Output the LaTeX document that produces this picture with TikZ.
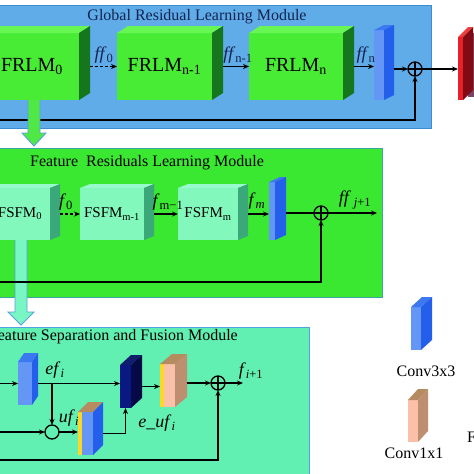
\documentclass[tikz,border=0pt]{standalone}
\usepackage{fontspec}
\setmainfont{Liberation Serif}
\usetikzlibrary{calc,arrows.meta}
\definecolor{gblue}{RGB}{95,172,232}
\definecolor{gblueedge}{RGB}{60,140,210}
\definecolor{bgreen}{RGB}{58,232,50}
\definecolor{bgreenedge}{RGB}{60,165,160}
\definecolor{mint}{RGB}{98,240,178}
\definecolor{mintedge}{RGB}{80,165,225}
\definecolor{cubeg}{RGB}{72,236,52}
\definecolor{cubegtop}{RGB}{104,246,84}
\definecolor{cubegside}{RGB}{22,118,30}
\definecolor{cubem}{RGB}{130,248,188}
\definecolor{cubemtop}{RGB}{150,250,205}
\definecolor{cubemside}{RGB}{58,168,120}
\definecolor{convf}{RGB}{100,150,245}
\definecolor{convs}{RGB}{35,95,235}
\definecolor{convt}{RGB}{60,120,240}
\definecolor{navyf}{RGB}{10,25,130}
\definecolor{navys}{RGB}{5,10,70}
\definecolor{navyt}{RGB}{15,30,110}
\definecolor{peachf}{RGB}{250,192,168}
\definecolor{peachs}{RGB}{190,142,112}
\definecolor{peacht}{RGB}{180,140,95}
\definecolor{yel}{RGB}{250,215,40}
\definecolor{redf}{RGB}{232,32,42}
\definecolor{redt}{RGB}{240,60,60}
\definecolor{reds}{RGB}{130,10,20}
\definecolor{purp}{RGB}{120,70,100}
\definecolor{titlenavy}{RGB}{20,35,80}
\definecolor{hgreen}{RGB}{80,232,70}
\definecolor{hmint}{RGB}{120,246,196}
\definecolor{hedge}{RGB}{90,160,220}
\newcommand{\mycube}[5]{%
  \fill[#4] (#1.north west) -- ++(#2,#3) -- ($(#1.north east)+(#2,#3)$) -- (#1.north east) -- cycle;
  \fill[#5] (#1.north east) -- ++(#2,#3) -- ($(#1.south east)+(#2,#3)$) -- (#1.south east) -- cycle;}
\tikzset{
  face/.style={inner sep=0pt, outer sep=0pt, draw=none},
  container/.style={inner sep=0pt, outer sep=0pt, line width=1pt},
  title/.style={inner sep=0pt, font=\fontsize{16}{18}\selectfont},
  legtxt/.style={inner sep=0pt, font=\fontsize{16}{18}\selectfont},
  lbl/.style={inner sep=0pt, font=\fontsize{18}{20}\selectfont},
  bigtxt/.style={font=\fontsize{20}{22}\selectfont},
  midtxt/.style={font=\fontsize{15}{17}\selectfont},
  oplus/.style={circle, draw, line width=1.3pt, minimum size=14pt, inner sep=0pt, outer sep=0pt,
    path picture={\draw[line width=1.2pt] (path picture bounding box.north) -- (path picture bounding box.south)
      (path picture bounding box.west) -- (path picture bounding box.east);}},
  ocirc/.style={circle, draw, line width=1.3pt, minimum size=14pt, inner sep=0pt, outer sep=0pt},
  conn/.style={line width=1.5pt, -{Stealth[length=6pt,width=5pt]}},
  plain/.style={line width=1.5pt},
  hollow/.style={line width=0.9pt, draw=hedge}
}
\begin{document}
\begin{tikzpicture}[x=1pt,y=-1pt]
\useasboundingbox (0,0) rectangle (474,474);
\clip (0,0) rectangle (474,474);
\fill[white] (0,0) rectangle (474,474);

% containers
\node[container, fill=gblue, draw=gblueedge, minimum width=436pt, minimum height=123pt] (G) at (213,66.5) {};
\node[container, fill=bgreen, draw=bgreenedge, minimum width=387pt, minimum height=149pt] (FB) at (188.5,222.5) {};
\node[container, fill=mint, draw=mintedge, minimum width=314pt, minimum height=153pt] (SB) at (152,403.5) {};

\node[title, text=titlenavy] (Gt) at (197,17) {Global Residual Learning Module};
\node[title] (Ft) at (147,163) {Feature\ \ Residuals Learning Module};
\node[title, anchor=east] (St) at (238,337) {Feature Separation and Fusion Module};

% ---------- global module
\node[face, fill=cubeg, bigtxt, minimum width=94pt, minimum height=67pt] (F0) at (32,66.5) {\raisebox{-4pt}{FRLM\textsubscript{0}}};
\mycube{F0}{11}{-7}{cubegtop}{cubegside}
\node[face, fill=cubeg, bigtxt, minimum width=95pt, minimum height=67pt] (F1) at (164.5,66.5) {\raisebox{-4pt}{FRLM\textsubscript{n-1}}};
\mycube{F1}{11}{-7}{cubegtop}{cubegside}
\node[face, fill=cubeg, bigtxt, minimum width=94pt, minimum height=67pt] (F2) at (296,66.5) {\raisebox{-4pt}{FRLM\textsubscript{n}}};
\mycube{F2}{11}{-7}{cubegtop}{cubegside}
\node[face, fill=convf, minimum width=10pt, minimum height=70pt] (S1) at (379,65) {};
\mycube{S1}{10}{-5}{convt}{convs}
\coordinate (S1r) at ([xshift=10pt]S1.east);
\node[oplus] (P1) at (415,69) {};
\fill[purp] (468,33) rectangle (474,97);
\node[face, fill=redf, minimum width=5pt, minimum height=63pt] (R) at (460.5,68.5) {};
\mycube{R}{10}{-10}{redt}{reds}

\draw[conn, dash pattern=on 3pt off 2pt] ([xshift=11pt]F0.east) -- (F1.west);
\draw[conn] ([xshift=11pt]F1.east) -- (F2.west);
\draw[conn] ([xshift=11pt]F2.east) -- (F2.east -| S1.west);
\draw[conn] (S1r |- P1) -- (P1.west);
\draw[conn] (P1.east) -- (P1 -| R.west);
\coordinate (gin) at (-5,120);
\draw[conn] (gin) -| (P1.south);
\node[lbl, text=titlenavy] (l0) at (104,55) {\textit{ff}\textsubscript{0}};
\node[lbl, text=titlenavy] (l1) at (238,55) {\textit{ff}\textsubscript{n-1}};
\node[lbl, text=titlenavy] (l2) at (366,55) {\textit{ff}\textsubscript{n}};

% hollow arrow 1
\draw[hollow, fill=hgreen] (28,100) -- (28,133) -- (22,133) -- (34,146) -- (46,133) -- (40,133) -- (40,100);

% ---------- feature residuals module
\node[face, fill=cubem, midtxt, minimum width=60pt, minimum height=52pt] (M0) at (20,214) {\raisebox{-3pt}{FSFM\textsubscript{0}}};
\mycube{M0}{10}{-4}{cubemtop}{cubemside}
\node[face, fill=cubem, midtxt, minimum width=64pt, minimum height=52pt] (M1) at (112,214) {\raisebox{-3pt}{FSFM\textsubscript{m-1}}};
\mycube{M1}{10}{-4}{cubemtop}{cubemside}
\node[face, fill=cubem, midtxt, minimum width=60pt, minimum height=52pt] (M2) at (208,214) {\raisebox{-3pt}{FSFM\textsubscript{m}}};
\mycube{M2}{10}{-4}{cubemtop}{cubemside}
\node[face, fill=convf, minimum width=6pt, minimum height=58pt] (S2) at (272,211) {};
\mycube{S2}{11}{-5}{convt}{convs}
\coordinate (S2r) at ([xshift=11pt]S2.east);
\node[oplus] (P2) at (321,213) {};
\coordinate (fout) at (377,213);

\draw[conn, dash pattern=on 3pt off 2pt] ([xshift=10pt]M0.east) -- (M1.west);
\draw[conn] ([xshift=10pt]M1.east) -- (M2.west);
\draw[conn] ([xshift=10pt]M2.east) -- (M2.east -| S2.west);
\draw[plain] (S2r |- P2) -- (P2.west);
\draw[conn] (P2.east) -- (fout);
\node[lbl] (m0) at (66,202) {\textit{f}\textsubscript{0}};
\node[lbl] (m1) at (168,202) {\textit{f}\textsubscript{m−1}};
\node[lbl] (m2) at (257,201) {\textit{f}\textsubscript{\textit{m}}};
\node[lbl] (m3) at (355,200) {\textit{ff}\,\textsubscript{\textit{j}+1}};

% hollow arrow 2
\draw[hollow, fill=hmint] (15,240) -- (15,312) -- (8,312) -- (21,325) -- (34,312) -- (27,312) -- (27,240);
\coordinate (fin) at (-5,282);
\draw[conn] (fin) -| (P2.south);

% ---------- separation and fusion module
\node[face, fill=convf, minimum width=14pt, minimum height=43pt] (B1) at (25,383.5) {};
\mycube{B1}{6}{-9}{convt}{convs}
\coordinate (B1r) at ([xshift=6pt]B1.east);
\node[face, fill=navyf, minimum width=11pt, minimum height=43pt] (N) at (125.5,386.5) {};
\mycube{N}{11}{-10}{navyt}{navys}
\coordinate (Nr) at ([xshift=11pt]N.east);
\node[ocirc] (C1) at (52,432) {};
\node[face, fill=convf, minimum width=15pt, minimum height=43pt] (Y) at (85.5,433.5) {};
\fill[yel] (Y.north west) rectangle ([xshift=4pt]Y.south west);
\mycube{Y}{10}{-10}{peacht}{convs}
\coordinate (Yr) at ([xshift=10pt]Y.east);
\node[face, fill=peachf, minimum width=15pt, minimum height=43pt] (PB) at (167.5,385.5) {};
\fill[yel] (PB.north west) rectangle ([xshift=4pt]PB.south west);
\mycube{PB}{12}{-10}{peacht}{peachs}
\coordinate (PBr) at ([xshift=12pt]PB.east);
\node[oplus] (P3) at (218,383) {};

\coordinate (sin) at (-5,383.5);
\draw[conn] (sin) -- (sin -| B1.west);
\draw[conn] (B1r) -- (B1r -| N.west);
\draw[conn] (B1r -| C1) -- (C1.north);
\coordinate (uin) at (-5,432);
\draw[conn] (uin) -- (C1.west);
\draw[conn] (C1.east) -- (C1 -| Y.west);
\draw[conn] (Yr) -| (N.south);
\draw[conn] (Nr) -- (Nr -| PB.west);
\draw[conn] (PBr |- P3) -- (P3.west);
\coordinate (sout) at (243,383);
\draw[conn] (P3.east) -- (sout);
\coordinate (sk) at (-5,460);
\draw[conn] (sk) -| (P3.south);
\node[lbl] (e1) at (55,370) {\textit{ef}\textsubscript{\textit{i}}};
\node[lbl] (e2) at (69,418) {\textit{uf}\textsubscript{\textit{i}}};
\node[lbl] (e3) at (157,423) {\textit{e\_uf}\textsubscript{\textit{i}}};
\node[lbl] (e4) at (251,371) {\textit{f}\textsubscript{\textit{i}+1}};

% ---------- legend
\node[face, fill=convf, minimum width=10pt, minimum height=43pt] (L1) at (416,328.5) {};
\mycube{L1}{11}{-10}{convt}{convs}
\node[legtxt] (L1t) at (426,371) {Conv3x3};
\node[face, fill=peachf, minimum width=10pt, minimum height=42pt] (L2) at (413,421) {};
\mycube{L2}{10}{-11}{peacht}{peachs}
\node[legtxt] (L2t) at (414,453) {Conv1x1};
\node[legtxt, anchor=west] (L3t) at (467,437) {F};
\end{tikzpicture}
\end{document}
